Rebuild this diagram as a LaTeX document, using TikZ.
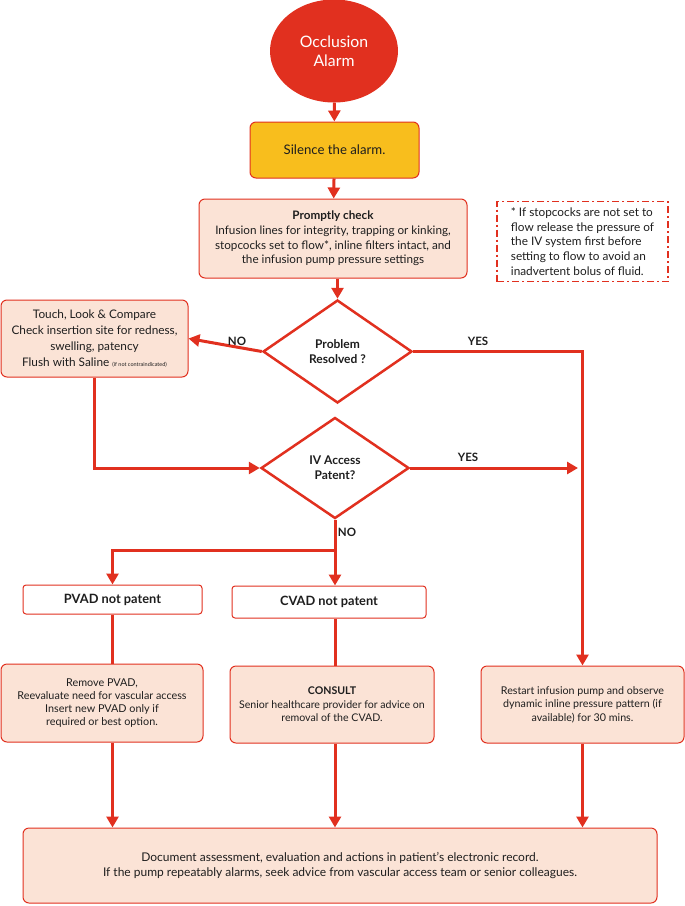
\documentclass[tikz,border=0pt]{standalone}
\usepackage{fontspec}
\setmainfont{Lato}
\usetikzlibrary{shapes.geometric,arrows.meta}
\definecolor{myred}{HTML}{E1301F}
\definecolor{peach}{HTML}{FBE3D6}
\definecolor{amber}{HTML}{F8BE1D}
\definecolor{ink}{HTML}{1E1E1E}
\begin{document}
\begin{tikzpicture}[x=1pt,y=-1pt,
 box/.style={draw=myred, line width=1pt, rounded corners=6pt, fill=peach, align=center, inner sep=0pt, text=ink, font=\fontsize{10.7}{13.5}\selectfont},
 wbox/.style={box, fill=white, font=\fontsize{12.8}{14}\selectfont\bfseries},
 dia/.style={diamond, draw=myred, line width=2.5pt, fill=white, align=center, inner sep=0pt, text=ink, font=\fontsize{12}{15}\selectfont\bfseries},
 conn/.style={draw=myred, line width=3pt},
 arr/.style={conn, -{Triangle[length=11pt,width=12pt]}},
 lab/.style={text=ink, font=\fontsize{11.5}{12}\selectfont\bfseries}
]
\useasboundingbox (0,0) rectangle (685,906);

\node[ellipse, fill=myred, minimum width=128pt, minimum height=103pt, inner sep=0pt, align=center, text=white, font=\fontsize{15.8}{19.5}\selectfont] (alarm) at (334,51) {Occlusion\\Alarm};

\node[box, fill=amber, minimum width=169pt, minimum height=56pt, font=\fontsize{13.2}{15}\selectfont] (silence) at (334.5,150) {Silence the alarm.};

\node[box, minimum width=268pt, minimum height=79pt, font=\fontsize{11.7}{14.7}\selectfont] (check) at (333,238.5) {\textbf{Promptly check}\\Infusion lines for integrity, trapping or kinking,\\stopcocks set to flow*, inline filters intact, and\\the infusion pump pressure settings};

\node[draw=myred, line width=1.5pt, dash pattern=on 7pt off 3pt on 2pt off 3pt, minimum width=171pt, minimum height=80pt, inner sep=0pt, align=left, text=ink, font=\fontsize{11.8}{14.6}\selectfont] (note) at (582.5,241.5) {* If stopcocks are not set to\\flow release the pressure of\\the IV system first before\\setting to flow to avoid an\\inadvertent bolus of fluid.};

\node[dia, minimum width=149pt, minimum height=103pt] (d1) at (337.5,351.5) {Problem\\Resolved ?};

\node[box, minimum width=187pt, minimum height=77pt, font=\fontsize{11.8}{16}\selectfont] (touch) at (94.5,338.5) {Touch, Look \& Compare\\Check insertion site for redness,\\swelling, patency\\Flush with Saline {\fontsize{5.5}{6}\selectfont(if not contraindicated)}};

\node[dia, minimum width=148pt, minimum height=101pt] (d2) at (335,468) {IV Access\\Patent?};

\node[wbox, minimum width=179pt, minimum height=29pt, rounded corners=3pt] (pvad) at (112.5,599.5) {PVAD not patent};
\node[wbox, minimum width=194pt, minimum height=32pt, rounded corners=3pt] (cvad) at (329,602) {CVAD not patent};

\node[box, minimum width=202pt, minimum height=78pt, font=\fontsize{10.8}{13.3}\selectfont] (remove) at (102,703) {Remove PVAD,\\Reevaluate need for vascular access\\Insert new PVAD only if\\required or best option.};
\node[box, minimum width=204pt, minimum height=77pt, font=\fontsize{10.6}{13.5}\selectfont] (consult) at (332,704.5) {\textbf{CONSULT}\\Senior healthcare provider for advice on\\removal of the CVAD.};
\node[box, minimum width=203pt, minimum height=77pt, font=\fontsize{10.7}{13.5}\selectfont] (restart) at (582.5,704.5) {Restart infusion pump and observe\\dynamic inline pressure pattern (if\\available) for 30 mins.};

\node[box, minimum width=634pt, minimum height=75pt, font=\fontsize{12}{15}\selectfont] (final) at (340,865.5) {Document assessment, evaluation and actions in patient's electronic record.\\If the pump repeatably alarms, seek advice from vascular access team or senior colleagues.};

% connectors
\draw[arr] (alarm) -- (silence);
\draw[arr] (silence) -- (check);
\draw[arr] (check.south -| d1.north) -- (d1.north);
\draw[arr] (d1.west) -- (touch.east);
\node[lab] (nolab1) at (237,341) {NO};
\draw[arr] (d1.east) -| (restart.north);
\node[lab] (yeslab1) at (478,341) {YES};
\draw[arr] (touch.south) |- (d2.west);
\coordinate (yesend) at (578,468);
\draw[arr] (d2.east) -- (yesend);
\node[lab] (yeslab2) at (468,457) {YES};
\coordinate (jy) at (0,550);
\coordinate (jn) at (d2.south |- jy);
\draw[conn] (d2.south) -- (jn);
\node[lab] (nolab2) at (347,532) {NO};
\draw[arr] (jn) -| (pvad.north);
\draw[arr] (jn) -- (jn |- cvad.north);
\draw[conn] (pvad.south) -- (pvad.south |- remove.north);
\draw[conn] (jn |- cvad.south) -- (jn |- consult.north);
\draw[arr] (pvad.south |- remove.south) -- (pvad.south |- final.north);
\draw[arr] (jn |- consult.south) -- (jn |- final.north);
\draw[arr] (restart.south) -- (restart.south |- final.north);
\end{tikzpicture}
\end{document}
